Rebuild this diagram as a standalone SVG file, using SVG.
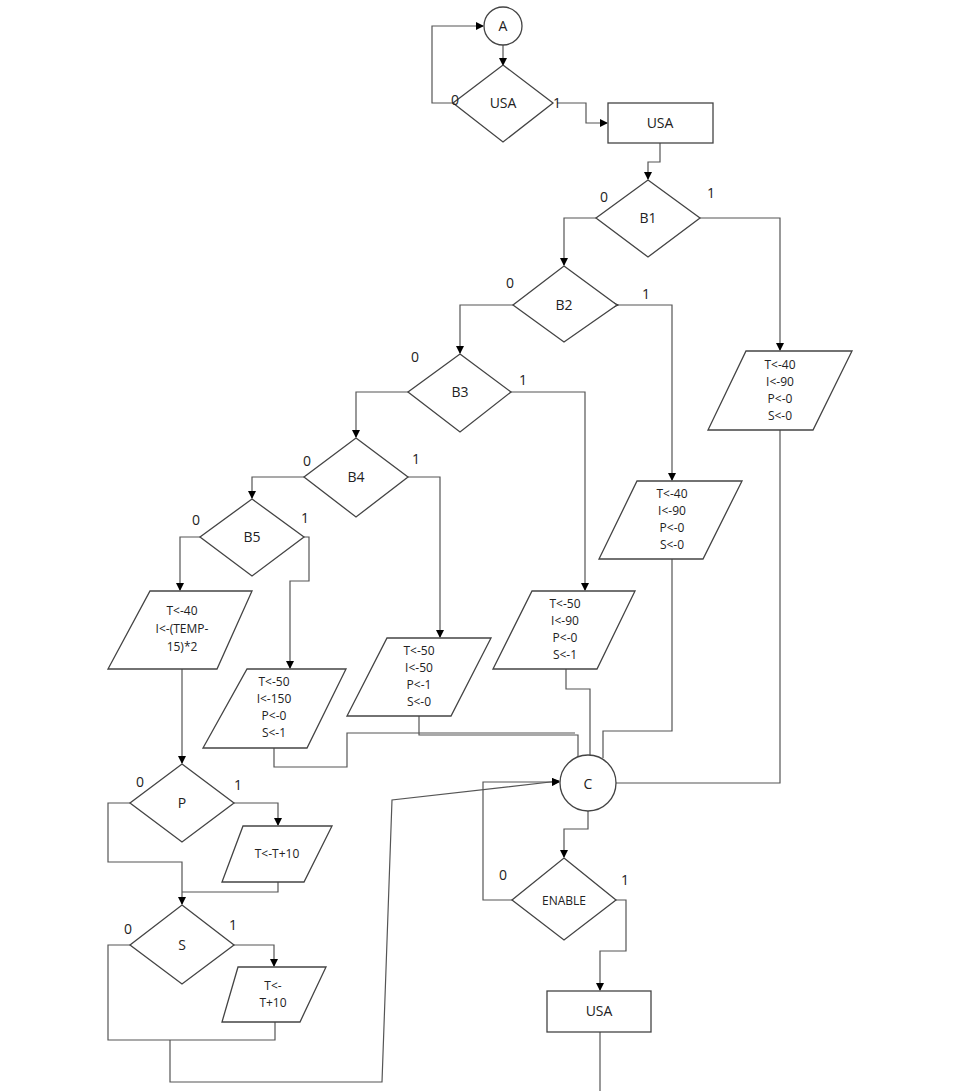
<svg xmlns="http://www.w3.org/2000/svg" width="975" height="1091" viewBox="0 0 975 1091">
<defs><marker id="ar" markerWidth="8" markerHeight="8" refX="7" refY="4" orient="auto" markerUnits="userSpaceOnUse"><path d="M0,0 L8,4 L0,8 z" fill="#000"/></marker></defs>
<style>
.s{fill:#fff;stroke:#444;stroke-width:1.3}
.c{fill:none;stroke:#555;stroke-width:1.2}
text{font-family:"Open Sans","Liberation Sans",sans-serif;font-size:12px;fill:#222;text-anchor:middle}
.l{font-size:14px}
.n{font-size:14px}
</style>
<rect width="975" height="1091" fill="#fff"/>
<g id="connectors">
<path class="c" d="M503,45 V65" marker-end="url(#ar)"/>
<path class="c" d="M453,103 H432 V26 H483" marker-end="url(#ar)"/>
<path class="c" d="M557,103 H586 V123 H607" marker-end="url(#ar)"/>
<path class="c" d="M660,143 V162 H648 V179" marker-end="url(#ar)"/>
<path class="c" d="M596,218 H564 V265" marker-end="url(#ar)"/>
<path class="c" d="M700,218 H780 V350" marker-end="url(#ar)"/>
<path class="c" d="M618,305 H672 V480" marker-start="url(#ar)" marker-end="url(#ar)"/>
<path class="c" d="M513,305 H460 V353" marker-end="url(#ar)"/>
<path class="c" d="M511,392 H585 V590" marker-end="url(#ar)"/>
<path class="c" d="M408,392 H356 V437" marker-end="url(#ar)"/>
<path class="c" d="M408,477 H440 V637" marker-end="url(#ar)"/>
<path class="c" d="M304,477 H252 V498" marker-end="url(#ar)"/>
<path class="c" d="M200,537 H180 V590" marker-end="url(#ar)"/>
<path class="c" d="M304,537 H309 V581 H290 V668" marker-end="url(#ar)"/>
<path class="c" d="M780,430 V783 H616"/>
<path class="c" d="M672,559 V731 H603 V758"/>
<path class="c" d="M566,669 V689 H590 V755"/>
<path class="c" d="M419,716 V735 H578 V759"/>
<path class="c" d="M274,748 V767 H347 V733 H575"/>
<path class="c" d="M182,669 V763" marker-end="url(#ar)"/>
<path class="c" d="M130,803 H108 V862 H182 V904" marker-end="url(#ar)"/>
<path class="c" d="M234,803 H278 V825" marker-end="url(#ar)"/>
<path class="c" d="M278,882 V892 H182"/>
<path class="c" d="M234,945 H274 V966" marker-end="url(#ar)"/>
<path class="c" d="M130,945 H108 V1040 H275 V1022"/>
<path class="c" d="M170,1040 V1082 H382 L392,800 L559,781" marker-end="url(#ar)"/>
<path class="c" d="M512,900 H483 V782 H559" marker-end="url(#ar)"/>
<path class="c" d="M588,811 V829 H564 V857" marker-end="url(#ar)"/>
<path class="c" d="M616,900 H626 V951 H600 V990" marker-end="url(#ar)"/>
<path class="c" d="M600,1032 V1091"/>
</g>
<g id="A"><circle class="s" cx="503" cy="26" r="19"/><text x="503" y="31" class="n">A</text></g>
<g id="usaDec"><path class="s" d="M503,65 L553,103 L503,142 L453,103 z"/><text x="503" y="108" class="n">USA</text><text x="455" y="105" class="l">0</text><text x="557" y="108" class="l">1</text></g>
<g id="usa1"><rect class="s" x="608" y="103" width="105" height="40"/><text x="660" y="128" class="n">USA</text></g>
<g id="B1"><path class="s" d="M648,180 L700,218 L648,257 L596,218 z"/><text x="648" y="223" class="n">B1</text><text x="604" y="202" class="l">0</text><text x="711" y="198" class="l">1</text></g>
<g id="B2"><path class="s" d="M564,266 L617,305 L564,342 L513,305 z"/><text x="564" y="310" class="n">B2</text><text x="510" y="288" class="l">0</text><text x="646" y="299" class="l">1</text></g>
<g id="B3"><path class="s" d="M460,354 L511,392 L460,432 L408,392 z"/><text x="460" y="397" class="n">B3</text><text x="415" y="362" class="l">0</text><text x="523" y="385" class="l">1</text></g>
<g id="B4"><path class="s" d="M356,438 L408,477 L356,517 L304,477 z"/><text x="356" y="482" class="n">B4</text><text x="307" y="466" class="l">0</text><text x="416" y="464" class="l">1</text></g>
<g id="B5"><path class="s" d="M252,499 L304,537 L252,576 L200,537 z"/><text x="252" y="542" class="n">B5</text><text x="196" y="525" class="l">0</text><text x="305" y="523" class="l">1</text></g>
<g id="p1"><path class="s" d="M150,591 H252 L217,669 H108 z"/><text x="182" y="615">T&lt;-40</text><text x="182" y="633">I&lt;-(TEMP-</text><text x="182" y="651">15)*2</text></g>
<g id="p2"><path class="s" d="M247,669 H346 L307,748 H203 z"/><text x="274" y="686">T&lt;-50</text><text x="274" y="703">I&lt;-150</text><text x="274" y="720">P&lt;-0</text><text x="274" y="737">S&lt;-1</text></g>
<g id="p3"><path class="s" d="M387,638 H491 L451,716 H347 z"/><text x="419" y="655">T&lt;-50</text><text x="419" y="672">I&lt;-50</text><text x="419" y="689">P&lt;-1</text><text x="419" y="706">S&lt;-0</text></g>
<g id="p4"><path class="s" d="M532,591 H635 L597,669 H493 z"/><text x="565" y="608">T&lt;-50</text><text x="565" y="625">I&lt;-90</text><text x="565" y="642">P&lt;-0</text><text x="565" y="659">S&lt;-1</text></g>
<g id="p5"><path class="s" d="M637,481 H742 L703,559 H599 z"/><text x="672" y="498">T&lt;-40</text><text x="672" y="515">I&lt;-90</text><text x="672" y="532">P&lt;-0</text><text x="672" y="549">S&lt;-0</text></g>
<g id="p6"><path class="s" d="M746,351 H852 L813,430 H708 z"/><text x="780" y="369">T&lt;-40</text><text x="780" y="386">I&lt;-90</text><text x="780" y="403">P&lt;-0</text><text x="780" y="420">S&lt;-0</text></g>
<g id="C"><circle class="s" cx="588" cy="783" r="28"/><text x="588" y="789" class="n">C</text></g>
<g id="P"><path class="s" d="M182,764 L234,803 L182,842 L130,803 z"/><text x="182" y="808" class="n">P</text><text x="140" y="787" class="l">0</text><text x="238" y="790" class="l">1</text></g>
<g id="p7"><path class="s" d="M243,826 H332 L304,882 H222 z"/><text x="277" y="858">T&lt;-T+10</text></g>
<g id="S"><path class="s" d="M182,905 L234,945 L182,984 L130,945 z"/><text x="182" y="950" class="n">S</text><text x="128" y="934" class="l">0</text><text x="233" y="930" class="l">1</text></g>
<g id="p8"><path class="s" d="M238,967 H326 L300,1022 H222 z"/><text x="273" y="990">T&lt;-</text><text x="273" y="1007">T+10</text></g>
<g id="ENABLE"><path class="s" d="M564,858 L616,900 L564,940 L512,900 z"/><text x="564" y="905">ENABLE</text><text x="503" y="880" class="l">0</text><text x="625" y="885" class="l">1</text></g>
<g id="usa2"><rect class="s" x="547" y="991" width="104" height="41"/><text x="599" y="1016" class="n">USA</text></g>
</svg>
